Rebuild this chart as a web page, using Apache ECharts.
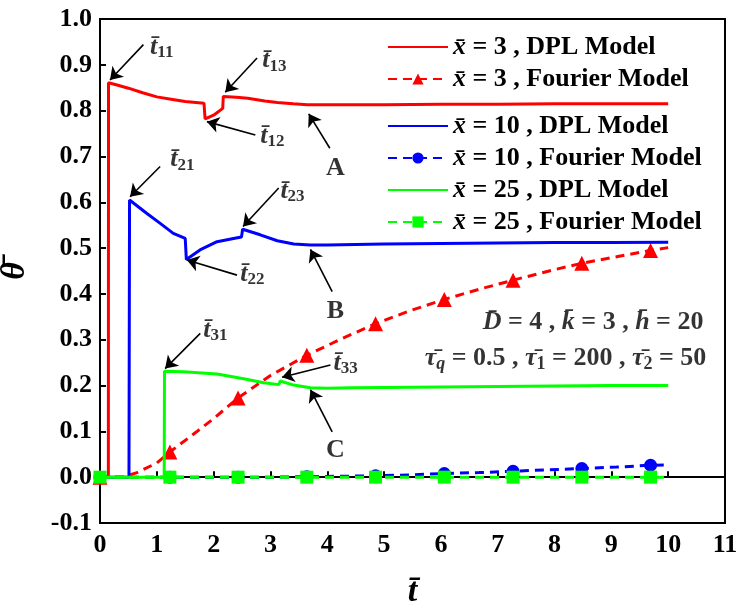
<!DOCTYPE html>
<html><head><meta charset="utf-8">
<script src="https://cdn.jsdelivr.net/npm/echarts@6/dist/echarts.min.js"></script>
<style>html,body{margin:0;padding:0;background:#fff}#c{width:741px;height:613px}</style>
</head><body><div id="c"></div>
<script>
const F = '"Liberation Serif","Times New Roman",serif';
const MAC = '\u0304';

// ---- axis ticks ----
const xMin = 0, xMax = 11, xStep = 1;
const yMin = -0.1, yMax = 1.0, yStep = 0.1;

// ---- DPL model, x = 3 (red) ----
const tR = [0, 0.147, 0.15, 0.3, 0.5, 0.75, 1.0, 1.25, 1.5, 1.83, 1.85, 2.0, 2.16, 2.17, 2.4, 2.6, 2.9, 3.12, 3.4, 3.65, 4.0, 5, 6, 7, 8, 9, 10];
const vR = [0, 0, 0.861, 0.856, 0.849, 0.839, 0.830, 0.825, 0.820, 0.816, 0.782, 0.790, 0.805, 0.831, 0.829, 0.827, 0.821, 0.818, 0.815, 0.813, 0.813, 0.813, 0.814, 0.814, 0.815, 0.815, 0.815];

// ---- DPL model, x = 10 (blue) ----
const tB = [0, 0.51, 0.52, 0.82, 1.06, 1.29, 1.5, 1.52, 1.76, 2.06, 2.35, 2.49, 2.51, 2.82, 3.12, 3.41, 3.70, 4.0, 5, 6, 7, 8, 9, 10];
const vB = [0, 0, 0.605, 0.576, 0.554, 0.532, 0.521, 0.475, 0.496, 0.514, 0.521, 0.524, 0.541, 0.529, 0.516, 0.509, 0.507, 0.507, 0.509, 0.510, 0.511, 0.512, 0.512, 0.513];

// ---- DPL model, x = 25 (green) ----
const tG = [0, 1.13, 1.135, 1.47, 2.06, 2.53, 2.88, 3.15, 3.17, 3.41, 3.70, 4.0, 4.41, 5, 6, 7, 8, 9, 10];
const vG = [0, 0, 0.231, 0.230, 0.225, 0.215, 0.206, 0.202, 0.210, 0.201, 0.195, 0.194, 0.195, 0.196, 0.197, 0.198, 0.199, 0.200, 0.200];

// ---- Fourier model (shared time grid) ----
const tF = [0, 0.41, 0.65, 1.0, 1.23, 1.7, 2.0, 2.43, 3.0, 3.64, 4.25, 4.85, 5.45, 6.06, 6.67, 7.27, 7.87, 8.48, 9.09, 9.69, 10];
const vFR = [0, 0, 0.010, 0.031, 0.055, 0.099, 0.128, 0.173, 0.222, 0.266, 0.302, 0.335, 0.363, 0.388, 0.410, 0.430, 0.449, 0.467, 0.481, 0.495, 0.501];
const vFB = [0, 0, 0, 0, 0, 0, 0, 0, 0, 0.001, 0.002, 0.003, 0.005, 0.008, 0.010, 0.013, 0.016, 0.019, 0.022, 0.026, 0.027];
const vFG = [0, 0, 0, 0, 0, 0, 0, 0, 0, 0, 0, 0, 0, 0, 0, 0, 0, 0, 0, 0, 0];
const markerT = [0, 1.23, 2.43, 3.64, 4.85, 6.06, 7.27, 8.48, 9.69];

// ---- legend ----
const seriesNames = ['r_dpl', 'r_f', 'b_dpl', 'b_f', 'g_dpl', 'g_f'];
const legendX = ['3', '3', '10', '10', '25', '25'];
const legendModel = ['DPL Model', 'Fourier Model', 'DPL Model', 'Fourier Model', 'DPL Model', 'Fourier Model'];

// ---- annotations (data coordinates) ----
const arrows = [
  [0.764, 0.944, 0.176, 0.867],
  [2.764, 0.915, 2.205, 0.840],
  [2.734, 0.747, 1.882, 0.776],
  [4.045, 0.718, 3.674, 0.793],
  [1.058, 0.678, 0.529, 0.612],
  [3.145, 0.631, 2.517, 0.547],
  [2.411, 0.441, 1.529, 0.474],
  [4.086, 0.405, 3.704, 0.497],
  [1.764, 0.314, 1.146, 0.237],
  [4.056, 0.245, 3.204, 0.218],
  [4.086, 0.099, 3.704, 0.191]
];
const tLabelSub = ['11', '13', '12', '21', '23', '22', '31', '33'];
const tLabelPos = [[0.882, 0.939], [2.857, 0.909], [2.822, 0.745], [1.235, 0.693], [3.175, 0.624], [2.469, 0.443], [1.817, 0.321], [4.109, 0.249]];
const letterLabels = ['A', 'B', 'C'];
const letterPos = [[4.145, 0.675], [4.145, 0.3625], [4.145, 0.059]];
const paramPos = [[10.62, 0.337], [10.67, 0.260]];

const RED = '#ff0000', BLUE = '#0000ff', GREEN = '#00ff00';
const zip = (a, b) => a.map((t, i) => [t, b[i]]);
const fourierData = (vals, sym) => tF.map((t, i) => ({
  value: [t, vals[i]],
  symbol: markerT.includes(t) ? sym : 'none'
}));

const baseText = { fontFamily: F, fontWeight: 'bold', color: '#000' };
const rich = {
  t: Object.assign({}, baseText, { fontSize: 26, fontStyle: 'italic', lineHeight: 28 }),
  s: Object.assign({}, baseText, { fontSize: 17, lineHeight: 17, verticalAlign: 'bottom' }),
  n: Object.assign({}, baseText, { fontSize: 26, lineHeight: 30 }),
  i: Object.assign({}, baseText, { fontSize: 26, fontStyle: 'italic', lineHeight: 30 }),
  q: Object.assign({}, baseText, { fontSize: 18, fontStyle: 'italic', lineHeight: 18, verticalAlign: 'bottom' }),
  r: Object.assign({}, baseText, { fontSize: 18, lineHeight: 18, verticalAlign: 'bottom' }),
  L: Object.assign({}, baseText, { fontSize: 26, lineHeight: 28 })
};

const labelData = [];
tLabelPos.forEach((p, i) => labelData.push({
  value: p,
  label: { show: true, position: 'right', distance: 0, formatter: '{t|t' + MAC + '}{s|' + tLabelSub[i] + '}', rich: rich }
}));
letterPos.forEach((p, i) => labelData.push({
  value: p,
  label: { show: true, position: 'inside', formatter: '{L|' + letterLabels[i] + '}', rich: rich }
}));
labelData.push({
  value: paramPos[0],
  label: { show: true, position: 'left', distance: 0, rich: rich,
    formatter: '{i|D' + MAC + '}{n| = 4 , }{i|k' + MAC + '}{n| = 3 , }{i|h' + MAC + '}{n| = 20}' }
});
labelData.push({
  value: paramPos[1],
  label: { show: true, position: 'left', distance: 0, rich: rich,
    formatter: '{i|\u03c4' + MAC + '}{q|q}{n| = 0.5 , }{i|\u03c4' + MAC + '}{r|1}{n| = 200 , }{i|\u03c4' + MAC + '}{r|2}{n| = 50}' }
});

const legendRich = {
  x: Object.assign({}, baseText, { fontSize: 26, fontStyle: 'italic' }),
  m: Object.assign({}, baseText, { fontSize: 26 })
};
const legendFmt = name => {
  const i = seriesNames.indexOf(name);
  return '{x|x' + MAC + '}{m| = ' + legendX[i] + ' , ' + legendModel[i] + '}';
};
const legendItem = name => name.indexOf('dpl') >= 0
  ? { name: name, itemStyle: { opacity: 0 } }
  : { name: name };
const legendCommon = {
  orient: 'vertical', left: 387, padding: 0, itemWidth: 60, itemHeight: 14, itemGap: 6,
  selectedMode: false, formatter: legendFmt,
  textStyle: Object.assign({}, baseText, { fontSize: 26, lineHeight: 26, rich: legendRich })
};

const chart = echarts.init(document.getElementById('c'), null, { renderer: 'canvas' });
chart.setOption({
  animation: false,
  backgroundColor: '#fff',
  grid: { left: 100, right: 16, top: 19, bottom: 90, containLabel: false, outerBoundsMode: 'none',
    show: true, borderColor: '#000', borderWidth: 2, backgroundColor: 'transparent' },
  legend: [
    Object.assign({}, legendCommon, { top: 34, data: ['r_dpl', 'r_f'].map(legendItem) }),
    Object.assign({}, legendCommon, { top: 113, data: ['b_dpl', 'b_f', 'g_dpl', 'g_f'].map(legendItem) })
  ],
  xAxis: {
    type: 'value', min: xMin, max: xMax, interval: xStep,
    axisLine: { show: true, lineStyle: { color: '#000', width: 2 } },
    axisTick: { show: true, inside: true, length: 6, lineStyle: { color: '#000', width: 2 } },
    axisLabel: Object.assign({}, baseText, { fontSize: 26, margin: 9 }),
    splitLine: { show: false },
    name: 't' + MAC, nameLocation: 'middle', nameGap: 52,
    nameTextStyle: Object.assign({}, baseText, { fontSize: 34, fontStyle: 'italic' })
  },
  yAxis: {
    type: 'value', min: yMin, max: yMax, interval: yStep,
    axisLine: { show: true, lineStyle: { color: '#000', width: 2 } },
    axisTick: { show: true, inside: true, length: 6, lineStyle: { color: '#000', width: 2 } },
    axisLabel: Object.assign({}, baseText, { fontSize: 26, margin: 8, formatter: v => v.toFixed(1) }),
    splitLine: { show: false },
    name: '\u03b8' + MAC, nameLocation: 'middle', nameGap: 68, nameRotate: 90,
    nameTextStyle: Object.assign({}, baseText, { fontSize: 34, fontStyle: 'italic' })
  },
  series: [
    { type: 'line', data: [[xMin, 0], [xMax, 0]], symbol: 'none', silent: true, z: 1,
      lineStyle: { color: '#000', width: 1.5, type: [5, 5] } },
    { name: 'r_dpl', type: 'line', data: zip(tR, vR), symbol: 'none', z: 2,
      lineStyle: { color: RED, width: 3 }, itemStyle: { color: RED } },
    { name: 'r_f', type: 'line', data: fourierData(vFR, 'triangle'), symbol: 'triangle', symbolSize: 15, showAllSymbol: true, z: 3,
      lineStyle: { color: RED, width: 3, type: [9, 6] }, itemStyle: { color: RED } },
    { name: 'b_dpl', type: 'line', data: zip(tB, vB), symbol: 'none', z: 4,
      lineStyle: { color: BLUE, width: 3 }, itemStyle: { color: BLUE } },
    { name: 'b_f', type: 'line', data: fourierData(vFB, 'circle'), symbol: 'circle', symbolSize: 13, showAllSymbol: true, z: 5,
      lineStyle: { color: BLUE, width: 3, type: [9, 6] }, itemStyle: { color: BLUE } },
    { name: 'g_dpl', type: 'line', data: zip(tG, vG), symbol: 'none', z: 6,
      lineStyle: { color: GREEN, width: 3 }, itemStyle: { color: GREEN } },
    { name: 'g_f', type: 'line', data: fourierData(vFG, 'rect'), symbol: 'rect', symbolSize: 13, showAllSymbol: true, z: 7,
      lineStyle: { color: GREEN, width: 3, type: [9, 6] }, itemStyle: { color: GREEN } },
    { type: 'scatter', data: [], silent: true, z: 10,
      markLine: {
        silent: true, symbol: ['none', 'arrow'], symbolSize: 12, animation: false,
        label: { show: false },
        lineStyle: { color: '#000', width: 1.6, type: 'solid' },
        data: arrows.map(a => [{ coord: [a[0], a[1]] }, { coord: [a[2], a[3]] }])
      } },
    { type: 'scatter', data: labelData, symbolSize: 0, silent: true, z: 11 }
  ]
});
</script></body></html>
